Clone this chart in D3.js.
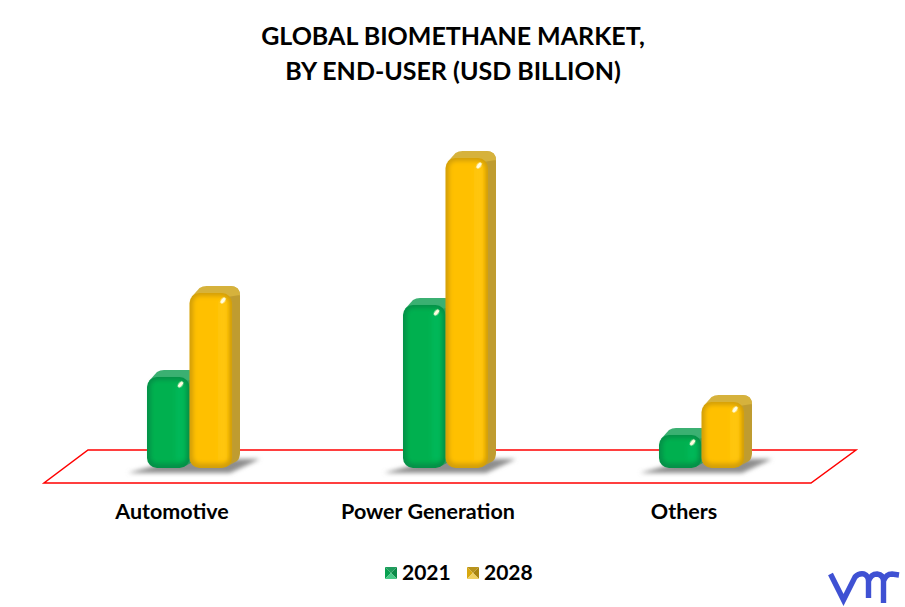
<!DOCTYPE html>
<html>
<head>
<meta charset="utf-8">
<script src="https://cdn.jsdelivr.net/npm/d3@7"></script>
<style>
  html, body { margin: 0; padding: 0; background: #fff; }
  text { font-family: Lato, "Open Sans", sans-serif; font-weight: 700; fill: #000; }
</style>
</head>
<body>
<div id="chart"></div>
<script>
const w = 905;
const h = 607;

//Data
const titleLines = ['GLOBAL BIOMETHANE MARKET,', 'BY END-USER (USD BILLION)'];
const categories = ['Automotive', 'Power Generation', 'Others'];
const years = ['2021', '2028'];
const values2021 = [0.91, 1.63, 0.33];
const values2028 = [1.75, 3.10, 0.66];

//Colors per series: front, bevel edge, top face, side face, right strip
const palette = {
  '2021': { front: '#00b050', edge: '#049047', top: '#3bb072', side: '#2f9a60', strip: '#04b858' },
  '2028': { front: '#ffc000', edge: '#d39f08', top: '#d6b23c', side: '#bf9c30', strip: '#ffc60a' }
};

const seriesValues = { '2021': values2021, '2028': values2028 };

const svg = d3.select('#chart').append('svg').attr('width', w).attr('height', h);
const defs = svg.append('defs');

defs.append('filter').attr('id', 'blur-soft').attr('x', '-30%').attr('y', '-60%').attr('width', '160%').attr('height', '220%')
  .append('feGaussianBlur').attr('stdDeviation', 2.2);
defs.append('filter').attr('id', 'blur-bevel').attr('x', '-30%').attr('y', '-30%').attr('width', '160%').attr('height', '160%')
  .append('feGaussianBlur').attr('stdDeviation', 1.9);
defs.append('filter').attr('id', 'blur-spot').attr('x', '-100%').attr('y', '-100%').attr('width', '300%').attr('height', '300%')
  .append('feGaussianBlur').attr('stdDeviation', 0.6);

//Scales
const x = d3.scaleBand().domain(categories).range([44, 812]);
const xYear = d3.scaleBand().domain(years).range([-25, 60]);
const y = d3.scaleLinear().domain([0, 3.10]).range([468, 158]);

const barW = xYear.bandwidth();
const depthX = 8;
const depthY = 7;
const r = 10;

//Title
svg.append('g').selectAll('text')
  .data(titleLines)
  .join('text')
  .attr('x', 453)
  .attr('y', (d, i) => 45 + i * 35)
  .attr('text-anchor', 'middle')
  .attr('font-size', 25)
  .text(d => d);

//Floor
const floorFront = y(0) + 15;
const floorBack = y(0) - 18;
svg.append('path')
  .attr('d', `M${x.range()[0]},${floorFront}L${x.range()[1] - 1},${floorFront}L${x.range()[1] + 44},${floorBack}L${x.range()[0] + 44},${floorBack}Z`)
  .attr('fill', 'none')
  .attr('stroke', '#ff0000')
  .attr('stroke-width', 1.5);

//Shadows under each group
svg.append('g').selectAll('path')
  .data(categories)
  .join('path')
  .attr('d', d => {
    const c = x(d) + x.bandwidth() / 2;
    const b = y(0);
    return `M${c - 44},${b + 5}L${c + 58},${b + 5}L${c + 88},${b - 9}L${c + 8},${b - 9}Z`;
  })
  .attr('fill', '#8e8e8e')
  .attr('filter', 'url(#blur-soft)');

//Bars
const bars = svg.append('g');
years.forEach(year => {
  const colors = palette[year];
  const g = bars.selectAll(`.bar-${year}`)
    .data(categories.map((c, i) => ({ category: c, value: seriesValues[year][i] })))
    .join('g')
    .attr('class', `bar-${year}`)
    .attr('transform', d => `translate(${x(d.category) + x.bandwidth() / 2 + xYear(year)},${y(d.value)})`);

  const height = d => y(0) - y(d.value);

  //side face
  g.append('path')
    .attr('d', d => {
      const hh = height(d);
      return `M${barW - 8},0L${barW + depthX - r},${-depthY}Q${barW + depthX},${-depthY} ${barW + depthX},${-depthY + r}` +
        `L${barW + depthX},${hh - depthY - 8}Q${barW + depthX},${hh - depthY - 3} ${barW + depthX - 3},${hh - depthY}L${barW - 6},${hh - 1}Z`;
    })
    .attr('fill', colors.side);

  //top face
  g.append('path')
    .attr('d', `M2,4L${depthX + 2},${-depthY + 2}Q${depthX + 5},${-depthY} ${depthX + 9},${-depthY}L${barW + depthX - r},${-depthY}Q${barW + depthX},${-depthY} ${barW + depthX},${-depthY + r - 1}L${barW - 5},4Z`)
    .attr('fill', colors.top);

  //front, bevelled edge then soft inner face
  g.append('rect')
    .attr('width', barW)
    .attr('height', height)
    .attr('rx', r)
    .attr('fill', colors.edge);

  g.append('rect')
    .attr('x', 3.5)
    .attr('y', 3)
    .attr('width', barW - 7)
    .attr('height', d => height(d) - 7.5)
    .attr('rx', r - 3)
    .attr('fill', colors.front)
    .attr('filter', 'url(#blur-bevel)');

  //slightly brighter strip down the right of the face
  g.append('rect')
    .attr('x', barW - 14)
    .attr('y', 8)
    .attr('width', 9)
    .attr('height', d => Math.max(height(d) - 16, 0))
    .attr('fill', colors.strip)
    .attr('filter', 'url(#blur-bevel)');

  //corner highlight
  g.append('ellipse')
    .attr('cx', barW - 9)
    .attr('cy', 7.5)
    .attr('rx', 2)
    .attr('ry', 3.4)
    .attr('transform', `rotate(38 ${barW - 9} 7.5)`)
    .attr('fill', '#fffde0')
    .attr('filter', 'url(#blur-spot)');
});

//Category labels
const axis = svg.append('g')
  .attr('transform', 'translate(0,503)')
  .call(d3.axisBottom(x).tickSize(0).tickPadding(0));
axis.select('.domain').remove();
axis.selectAll('text')
  .attr('font-size', 21.5)
  .attr('font-family', null)
  .attr('dy', '0.76em');

//Legend
const legendPos = d3.scaleOrdinal().domain(years).range([385, 467]);
const legend = svg.append('g').selectAll('g')
  .data(years)
  .join('g')
  .attr('transform', d => `translate(${legendPos(d)},567)`);
const swatchShades = {
  '2021': ['#1f9c5c', '#0a8a48', '#08a050', '#45c985'],
  '2028': ['#b8931c', '#a88410', '#d8a810', '#f0d060']
};
[[[0, 0], [12, 0], [6, 6]], [[12, 0], [12, 12], [6, 6]], [[0, 0], [0, 12], [6, 6]], [[0, 12], [12, 12], [6, 6]]]
  .forEach((tri, i) => {
    legend.append('path')
      .attr('d', 'M' + tri.join('L') + 'Z')
      .attr('fill', d => swatchShades[d][i]);
  });
legend.append('text')
  .attr('x', 17)
  .attr('y', 13)
  .attr('font-size', 21)
  .text(d => d);

//Logo
svg.append('path')
  .attr('d', 'M830.5,574L843.5,600L855,577Q859,573 864,574Q868.5,576 868.5,581L868.5,598M868.5,581Q871,574 877,574Q883.5,575 883.5,581L883.5,603M883.5,581Q886,574 892,574L899,575')
  .attr('fill', 'none')
  .attr('stroke', '#3f51d3')
  .attr('stroke-width', 5.4);
</script>
</body>
</html>
